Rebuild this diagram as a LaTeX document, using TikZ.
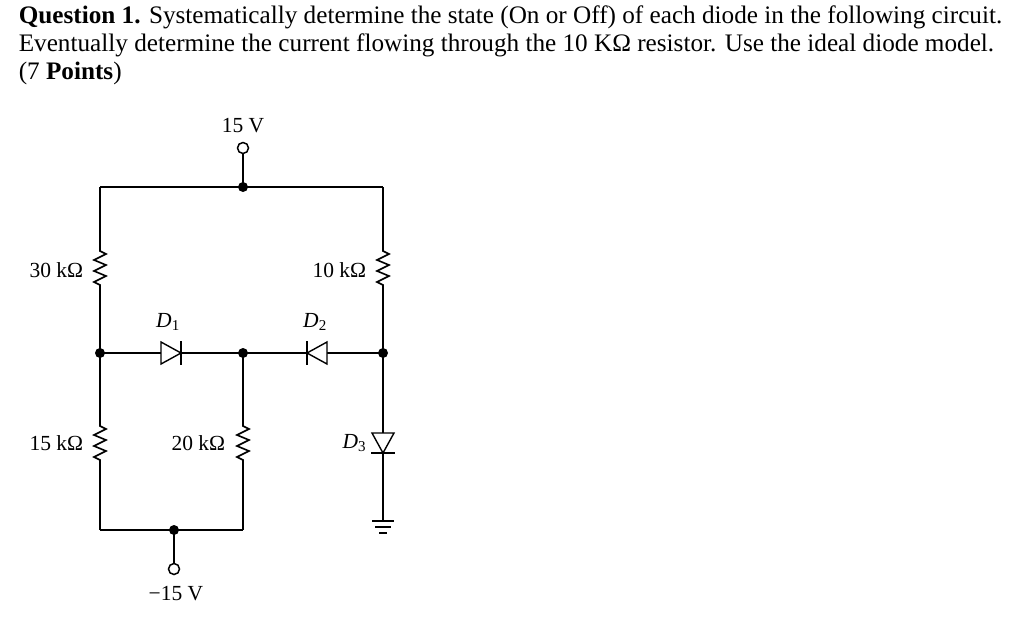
\documentclass[tikz,border=0pt]{standalone}
\usepackage{fontspec}
\setmainfont{Liberation Serif}
\begin{document}
\begin{tikzpicture}[x=1pt,y=-1pt,line width=1.6pt,
  lbl/.style={font=\fontsize{21.5}{23}\selectfont,inner sep=0pt},
  ttl/.style={font=\fontsize{25.2}{26}\selectfont,anchor=base west,inner sep=0pt},
  dot/.style={circle,fill,inner sep=0pt,minimum size=10pt},
  term/.style={circle,draw,fill=white,inner sep=0pt,minimum size=11pt,line width=1.5pt}]
\useasboundingbox (0,0) rectangle (1024,622);
\node[ttl] (t1) at (18,23) {\textbf{Question 1.} Systematically determine the state (On or Off) of each diode in the following circuit.};
\node[ttl] (t2) at (18,51) {Eventually determine the current flowing through the 10 KΩ resistor. Use the ideal diode model.};
\node[ttl] (t3) at (18,79) {(7 \textbf{Points})};
\coordinate (TL) at (100,187); \coordinate (TM) at (243,187); \coordinate (TR) at (383,187);
\coordinate (ML) at (100,353); \coordinate (MM) at (243,353); \coordinate (MR) at (383,353);
\coordinate (BL) at (100,530); \coordinate (BM) at (174,530); \coordinate (BR) at (243,530);
\node[term] (tp) at (243,148) {};
\node[term] (bp) at (174,569) {};
\draw (TL)--(TR); \draw (tp)--(TM);
\draw (BL)--(BR); \draw (bp)--(BM);
\draw (ML)--(MR);
\tikzset{res/.pic={\draw (0,-30)--(0,-17)--(6,-14)--(-6,-8)--(6,-3)--(-6,3)--(6,8)--(-6,14)--(0,17)--(0,30);}}
\draw (TL)--(100,238); \pic at (100,268) {res}; \draw (100,298)--(ML);
\draw (ML)--(100,413); \pic at (100,443) {res}; \draw (100,473)--(BL);
\draw (MM)--(243,413); \pic at (243,443) {res}; \draw (243,473)--(BR);
\draw (TR)--(383,238); \pic at (383,268) {res}; \draw (383,298)--(MR);
\draw[fill=white,line width=1.4pt] (161,342)--(181,353)--(161,364)--cycle; \draw[line width=1.4pt] (181,341)--(181,365);
\draw[fill=white,line width=1.4pt] (327,342)--(307,353)--(327,364)--cycle; \draw[line width=1.4pt] (307,341)--(307,365);
\draw (MR)--(383,520);
\draw[fill=white,line width=1.4pt] (372,433)--(383,453)--(394,433)--cycle; \draw[line width=1.4pt] (371,453)--(395,453);
\draw[line width=1.4pt] (372,521)--(394,521) (375,527)--(391,527) (379,533)--(387,533);
\foreach \p in {TM,ML,MM,MR,BM} \node[dot] at (\p) {};
\node[lbl] (l15) at (243,126) {15 V};
\node[lbl] (lm15) at (176,594) {−15 V};
\node[lbl,anchor=east] (r30) at (84,270) {30 kΩ};
\node[lbl,anchor=east] (r15) at (84,443) {15 kΩ};
\node[lbl,anchor=east] (r20) at (226,443) {20 kΩ};
\node[lbl,anchor=east] (r10) at (367,270) {10 kΩ};
\node[lbl] (d1) at (168,322) {\textit{D}\textsubscript{1}};
\node[lbl] (d2) at (315,322) {\textit{D}\textsubscript{2}};
\node[lbl,anchor=east] (d3) at (367,443) {\textit{D}\textsubscript{3}};
\end{tikzpicture}
\end{document}
